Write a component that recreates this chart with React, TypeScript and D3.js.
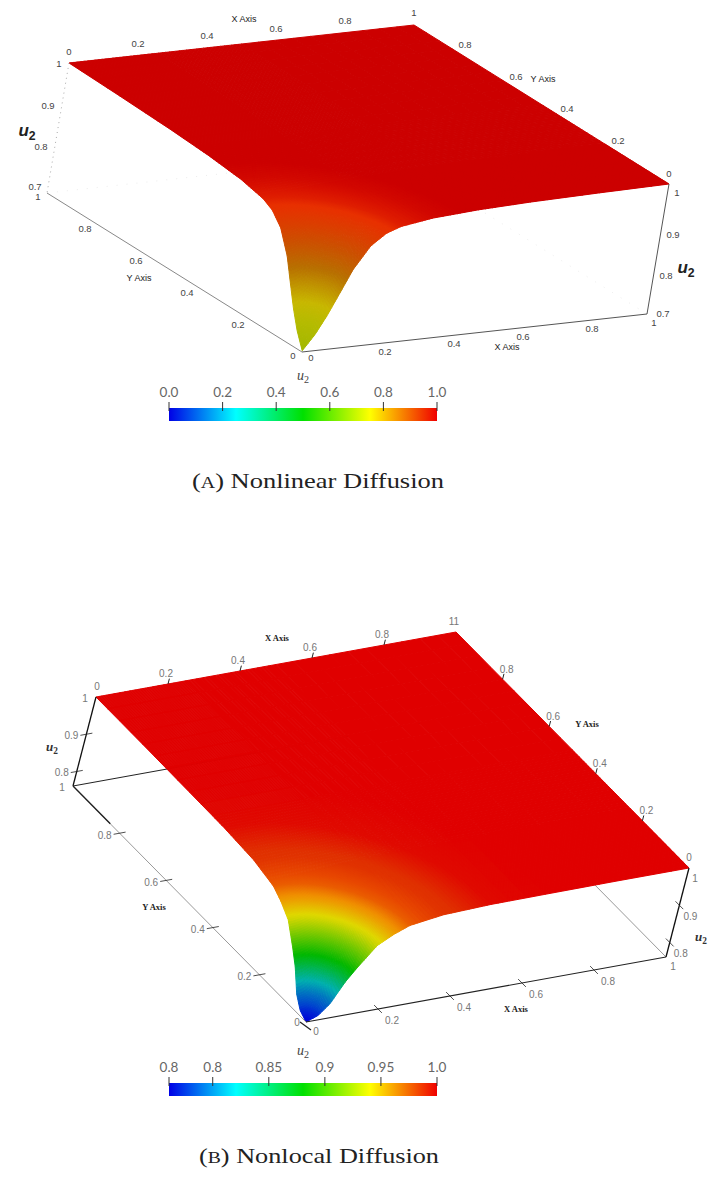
import { useEffect, useRef } from 'react';
import * as d3 from 'd3';

// radial profile of the surface
const radiusStops = [0, 0.03, 0.056, 0.085, 0.11, 0.15, 0.19, 0.23, 0.32, 0.45, 0.6, 0.8, 1, 1.5];
const u2NonlinearStops = [0.688, 0.725, 0.768, 0.825, 0.875, 0.928, 0.955, 0.968, 0.98, 0.988, 0.993, 0.997, 1, 1];
const u2NonlocalStops = [0.761, 0.773, 0.8, 0.855, 0.89, 0.94, 0.963, 0.98, 0.993, 0.998, 0.999, 1, 1, 1];

// surface colours: the first panel is lit, so it is darker than its colorbar
const nonlinearColorStops = [0.688, 0.74, 0.78, 0.85, 0.9, 0.96, 0.975, 0.985];
const nonlinearColors = ['#a3b800', '#b5bb00', '#c8b800', '#b87000', '#cc5000', '#e83000', '#d81000', '#cc0000'];
const nonlocalColorStops = [0.761, 0.78, 0.825, 0.875, 0.945, 0.968, 0.985, 0.994, 0.999];
const nonlocalColors = ['#0000d8', '#0040d0', '#00b0b0', '#00b800', '#e0d800', '#f09000', '#e84800', '#e03000', '#e00000'];

const colormapStops = [0, 0.25, 0.5, 0.75, 1];
const colormapColors = ['#0000e6', '#00ffff', '#00e000', '#ffff00', '#f00000'];

const xTicks = [0.2, 0.4, 0.6, 0.8];
const yTicks = [0.2, 0.4, 0.6, 0.8];
const nonlinearZTicks = [0.9, 0.8];
const nonlocalZTicks = [0.9, 0.8];

const nonlinearBarTicks = [0, 0.2, 0.4, 0.6, 0.8, 1];
const nonlinearBarLabels = ['0.0', '0.2', '0.4', '0.6', '0.8', '1.0'];
const nonlocalBarTicks = [0.761, 0.8, 0.85, 0.9, 0.95, 1];
const nonlocalBarLabels = ['0.8', '0.8', '0.85', '0.9', '0.95', '1.0'];

// mesh is finest where the surface drops
const gridSteps = [...d3.range(0, 0.25, 0.0035), ...d3.range(0.25, 0.5, 0.01), ...d3.range(0.5, 1.001, 0.05)];

function drawPanel(svg: any, p: any) {
  const g = svg.append('g');
  const sx = d3.scaleLinear([0, 1], [0, 1]);
  const sz = d3.scaleLinear([p.zMin, 1], [0, 1]);
  const project = (x: number, y: number, z: number): [number, number] => [
    p.origin[0] + sx(x) * p.ux[0] + sx(y) * p.uy[0] + sz(z) * p.uz[0],
    p.origin[1] + sx(x) * p.ux[1] + sx(y) * p.uy[1] + sz(z) * p.uz[1],
  ];
  const profile = d3.scaleLinear(radiusStops, p.profile).clamp(true);
  const color = d3.scaleLinear<string>(p.colorStops, p.colors).clamp(true);
  const height = (x: number, y: number) => profile(Math.hypot(x, y));
  const line = (a: [number, number], b: [number, number], stroke: string, width = 1, dash?: string) =>
    g.append('line')
      .attr('x1', a[0]).attr('y1', a[1]).attr('x2', b[0]).attr('y2', b[1])
      .attr('stroke', stroke).attr('stroke-width', width)
      .attr('stroke-dasharray', dash ?? null);
  const text = (pos: [number, number], s: string, fill = p.tickColor, size = p.tickSize, extra: any = {}) =>
    g.append('text')
      .attr('x', pos[0]).attr('y', pos[1]).attr('dy', '0.35em')
      .attr('text-anchor', 'middle')
      .attr('font-family', extra.family ?? 'Liberation Sans')
      .attr('font-size', size)
      .attr('font-weight', extra.weight ?? 'normal')
      .attr('fill', fill)
      .text(s);
  const shift = (a: [number, number], o: number[]): [number, number] => [a[0] + o[0], a[1] + o[1]];

  const z0 = p.zMin;
  // back edges, hidden by the surface
  line(project(0, 1, z0), project(1, 1, z0), p.backLeft.color, p.backLeft.width, p.backLeft.dash);
  line(project(1, 0, z0), project(1, 1, z0), p.backRight.color, p.backRight.width, p.backRight.dash);

  // surface, painted far to near
  const cells: { d: string; fill: string }[] = [];
  for (let i = gridSteps.length - 2; i >= 0; i--) {
    for (let j = gridSteps.length - 2; j >= 0; j--) {
      const [x0, x1] = [gridSteps[i], gridSteps[i + 1]];
      const [y0, y1] = [gridSteps[j], gridSteps[j + 1]];
      const pts = [[x0, y0], [x1, y0], [x1, y1], [x0, y1]].map(([x, y]) => project(x, y, height(x, y)));
      cells.push({
        d: 'M' + pts.map(q => `${q[0].toFixed(2)},${q[1].toFixed(2)}`).join('L') + 'Z',
        fill: color(height((x0 + x1) / 2, (y0 + y1) / 2)),
      });
    }
  }
  g.append('g').selectAll('path').data(cells).enter().append('path')
    .attr('d', d => d.d)
    .attr('fill', d => d.fill)
    .attr('stroke', d => d.fill)
    .attr('stroke-width', 1)
    .attr('stroke-linejoin', 'round');

  // front edges
  const s = p.edges;
  line(project(0, 1, 1), project(0, 1, z0), s.leftZ.color, s.leftZ.width, s.leftZ.dash);
  line(project(1, 0, 1), project(1, 0, z0), s.rightZ.color, s.rightZ.width);
  line(project(0, 1, z0), project(0, 0, z0), s.frontY.color, s.frontY.width);
  if (s.frontYDark) line(project(0, 1, z0), project(0, s.frontYDark.to, z0), s.frontYDark.color, s.frontYDark.width);
  line(project(0, 0, z0), project(1, 0, z0), s.frontX.color, s.frontX.width);

  if (p.ticks) {
    const t = 1 / 60;
    const tk = '#222';
    xTicks.forEach(v => {
      const a = project(v, 1, 1);
      line(a, shift(a, [p.uz[0] * 0.06, p.uz[1] * 0.06]), tk, 1);
      const b = project(v, 0, z0);
      line(shift(b, [p.uy[0] * t, p.uy[1] * t]), shift(b, [-p.uy[0] * t, -p.uy[1] * t]), tk, 0.8);
    });
    yTicks.forEach(v => {
      const a = project(1, v, 1);
      line(a, shift(a, [p.uz[0] * 0.06, p.uz[1] * 0.06]), tk, 1);
      const b = project(0, v, z0);
      line(shift(b, [-p.ux[0] * t, -p.ux[1] * t]), shift(b, [p.ux[0] * t, p.ux[1] * t]), tk, 0.8);
    });
    p.zTicks.forEach((v: number) => {
      const a = project(0, 1, v);
      line(shift(a, [-p.ux[0] * t, -p.ux[1] * t]), shift(a, [p.ux[0] * t, p.ux[1] * t]), tk, 0.8);
      const b = project(1, 0, v);
      line(shift(b, [p.uy[0] * t, p.uy[1] * t]), shift(b, [-p.uy[0] * t, -p.uy[1] * t]), tk, 0.8);
    });
    line(shift(project(0, 0, z0), [-6, 0]), shift(project(0, 0, z0), [5, 8]), tk, 1.2);
  }

  // tick labels
  const o = p.offsets;
  text(shift(project(0, 1, 1), o.corner), '0');
  text(shift(project(0, 1, 1), o.cornerZ), '1');
  text(shift(project(1, 1, 1), o.topX), p.farLabel);
  text(shift(project(1, 0, 1), o.zero), '0');
  text(shift(project(1, 0, 1), o.rightOne), '1');
  xTicks.forEach(v => {
    text(shift(project(v, 1, 1), o.topX), String(v));
    text(shift(project(v, 0, z0), o.bottomX), String(v));
  });
  yTicks.forEach(v => {
    text(shift(project(1, v, 1), o.topY), String(v));
    text(shift(project(0, v, z0), o.bottomY), String(v));
  });
  p.zTicks.forEach((v: number) => {
    text(shift(project(0, 1, v), o.leftZ), String(v));
    text(shift(project(1, 0, v), o.rightZ), String(v));
  });
  p.extraLabels.forEach((e: any) => text(e.pos, e.s));
  text(shift(project(0, 0, z0), o.origin0), '0');
  text(shift(project(0, 0, z0), o.origin1), '0');
  text(shift(project(0, 1, z0), o.y1), '1');
  text(shift(project(1, 0, z0), o.x1), '1');

  // axis titles
  p.titles.forEach((t: any) =>
    text(t.pos, t.s, '#222', p.titleSize, { family: p.titleFamily, weight: p.titleWeight }));

  // u2 labels beside the z axes
  const u2 = (pos: [number, number], size: number, fill: string, family: string, weight: string) => {
    const el = g.append('text')
      .attr('x', pos[0]).attr('y', pos[1]).attr('dy', '0.35em')
      .attr('text-anchor', 'middle')
      .attr('font-family', family).attr('font-size', size).attr('font-weight', weight).attr('fill', fill);
    el.append('tspan').attr('font-style', 'italic').text('u');
    el.append('tspan').attr('font-size', size * 0.72).attr('dy', size * 0.25).text('2');
  };
  p.u2Labels.forEach((l: any) => u2(l.pos, l.size, l.fill, l.family, l.weight));

  // colorbar
  const bar = p.bar;
  const id = `cmap-${p.id}`;
  const grad = svg.append('defs').append('linearGradient').attr('id', id);
  colormapStops.forEach((v, i) =>
    grad.append('stop').attr('offset', v).attr('stop-color', colormapColors[i]));
  g.append('rect')
    .attr('x', bar.x0).attr('y', bar.y).attr('width', bar.x1 - bar.x0).attr('height', bar.h)
    .attr('fill', `url(#${id})`);
  const barScale = d3.scaleLinear([bar.ticks[0], bar.ticks[bar.ticks.length - 1]], [bar.x0, bar.x1]);
  bar.ticks.forEach((v: number, i: number) => {
    line([barScale(v), bar.y - 6], [barScale(v), bar.y + 3], '#333', 1);
    g.append('text')
      .attr('x', barScale(v)).attr('y', bar.y - 16).attr('dy', '0.35em')
      .attr('text-anchor', 'middle')
      .attr('font-family', 'Lato').attr('font-size', 13.5).attr('fill', '#666')
      .text(bar.labels[i]);
  });

  // caption
  const cap = g.append('text')
    .attr('x', p.caption.x).attr('y', p.caption.y)
    .attr('font-family', 'Liberation Serif').attr('font-size', 22).attr('fill', '#222')
    .attr('textLength', p.caption.w).attr('lengthAdjust', 'spacingAndGlyphs');
  cap.append('tspan').text('(');
  cap.append('tspan').attr('font-size', 16.5).text(p.caption.letter);
  cap.append('tspan').text(') ' + p.caption.text);
}

export default function App() {
  const svgRef = useRef<SVGSVGElement>(null);

  useEffect(() => {
    if (!svgRef.current) return;
    const svg = d3.select(svgRef.current);
    svg.selectAll('*').remove();

    drawPanel(svg, {
      id: 'a',
      origin: [302, 352], ux: [345, -38], uy: [-255, -159], uz: [22, -130], zMin: 0.685,
      profile: u2NonlinearStops, colorStops: nonlinearColorStops, colors: nonlinearColors,
      tickColor: '#444', tickSize: 9.5, zTicks: nonlinearZTicks, ticks: false, farLabel: '1',
      backLeft: { color: '#e4e4e4', width: 0.7, dash: '1 9' },
      backRight: { color: '#e4e4e4', width: 0.7, dash: '1 9' },
      edges: {
        leftZ: { color: '#aaa', width: 1, dash: '1 4' },
        rightZ: { color: '#555', width: 1 },
        frontY: { color: '#888', width: 1 },
        frontX: { color: '#555', width: 1 },
      },
      offsets: {
        corner: [0, -11], cornerZ: [-10, 1], topX: [0, -12], topY: [0, -12], zero: [0, -10], rightOne: [8, 9],
        bottomX: [14, 7], bottomY: [-13, 4], leftZ: [-14, 1], rightZ: [11, 9],
        origin0: [-9, 4], origin1: [9, 6], y1: [-9, 4], x1: [7, 9],
      },
      extraLabels: [{ pos: [35, 187], s: '0.7' }, { pos: [663, 314], s: '0.7' }],
      titles: [
        { pos: [244, 19], s: 'X Axis' }, { pos: [543, 79], s: 'Y Axis' },
        { pos: [139, 278], s: 'Y Axis' }, { pos: [507, 347], s: 'X Axis' },
      ],
      titleSize: 9, titleFamily: 'Liberation Sans', titleWeight: 'normal',
      u2Labels: [
        { pos: [27, 130], size: 17, fill: '#222', family: 'Liberation Sans', weight: 'bold' },
        { pos: [686, 267], size: 17, fill: '#222', family: 'Liberation Sans', weight: 'bold' },
        { pos: [303, 375], size: 14, fill: '#444', family: 'Liberation Serif', weight: 'normal' },
      ],
      bar: { x0: 169, x1: 437, y: 408, h: 13, ticks: nonlinearBarTicks, labels: nonlinearBarLabels },
      caption: { x: 192, y: 488, w: 252, letter: 'A', text: 'Nonlinear Diffusion' },
    });

    drawPanel(svg, {
      id: 'b',
      origin: [306, 1022], ux: [360, -65], uy: [-233, -236], uz: [23, -89], zMin: 0.761,
      profile: u2NonlocalStops, colorStops: nonlocalColorStops, colors: nonlocalColors,
      tickColor: '#777', tickSize: 10, zTicks: nonlocalZTicks, ticks: true, farLabel: '11',
      backLeft: { color: '#222', width: 1 },
      backRight: { color: '#999', width: 1 },
      edges: {
        leftZ: { color: '#111', width: 1.3 },
        rightZ: { color: '#111', width: 1.3 },
        frontY: { color: '#999', width: 1 },
        frontYDark: { color: '#222', width: 1.4, to: 0.84 },
        frontX: { color: '#222', width: 1.1 },
      },
      offsets: {
        corner: [1, -11], cornerZ: [-11, 1], topX: [-2, -11], topY: [4, -10], zero: [0, -11], rightOne: [6, 10],
        bottomX: [14, 11], bottomY: [-15, 2], leftZ: [-15, 1], rightZ: [11, 11],
        origin0: [-9, 0], origin1: [10, 9], y1: [-11, 1], x1: [7, 9],
      },
      extraLabels: [],
      titles: [
        { pos: [277, 638], s: 'X Axis' }, { pos: [587, 724], s: 'Y Axis' },
        { pos: [154, 907], s: 'Y Axis' }, { pos: [516, 1009], s: 'X Axis' },
      ],
      titleSize: 8.5, titleFamily: 'Liberation Serif', titleWeight: 'bold',
      u2Labels: [
        { pos: [52, 746], size: 13, fill: '#333', family: 'Liberation Serif', weight: 'bold' },
        { pos: [701, 936], size: 13, fill: '#333', family: 'Liberation Serif', weight: 'bold' },
        { pos: [303, 1050], size: 14, fill: '#444', family: 'Liberation Serif', weight: 'normal' },
      ],
      bar: { x0: 169, x1: 437, y: 1083, h: 13, ticks: nonlocalBarTicks, labels: nonlocalBarLabels },
      caption: { x: 199, y: 1163, w: 240, letter: 'B', text: 'Nonlocal Diffusion' },
    });
  }, []);

  return (
    <svg
      ref={svgRef}
      width={716}
      height={1181}
      style={{ position: 'absolute', left: 0, top: 0, background: '#fff' }}
    />
  );
}
